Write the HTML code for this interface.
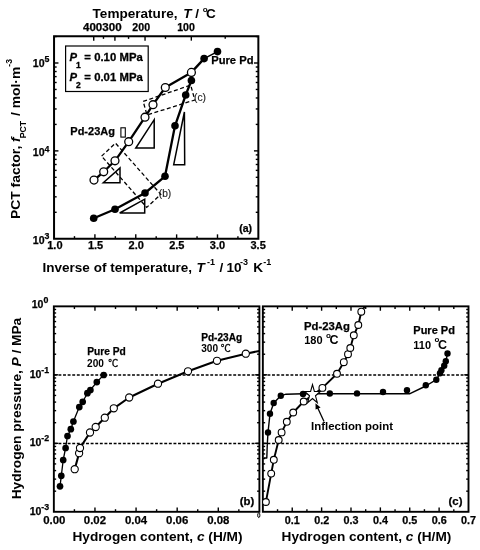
<!DOCTYPE html>
<html><head><meta charset="utf-8"><title>PCT factor figure</title>
<style>html,body{margin:0;padding:0;background:#fff}svg{display:block}</style></head>
<body>
<svg width="480" height="550" viewBox="0 0 480 550" font-family="'Liberation Sans', sans-serif" font-weight="bold" stroke="none">
<rect width="480" height="550" fill="#fff"/>
<line x1="54.05" y1="212.30" x2="56.65" y2="212.30" stroke="#000" stroke-width="1.4" />
<line x1="258.35" y1="212.30" x2="255.75" y2="212.30" stroke="#000" stroke-width="1.4" />
<line x1="54.05" y1="196.82" x2="56.65" y2="196.82" stroke="#000" stroke-width="1.4" />
<line x1="258.35" y1="196.82" x2="255.75" y2="196.82" stroke="#000" stroke-width="1.4" />
<line x1="54.05" y1="185.84" x2="56.65" y2="185.84" stroke="#000" stroke-width="1.4" />
<line x1="258.35" y1="185.84" x2="255.75" y2="185.84" stroke="#000" stroke-width="1.4" />
<line x1="54.05" y1="177.33" x2="56.65" y2="177.33" stroke="#000" stroke-width="1.4" />
<line x1="258.35" y1="177.33" x2="255.75" y2="177.33" stroke="#000" stroke-width="1.4" />
<line x1="54.05" y1="170.37" x2="56.65" y2="170.37" stroke="#000" stroke-width="1.4" />
<line x1="258.35" y1="170.37" x2="255.75" y2="170.37" stroke="#000" stroke-width="1.4" />
<line x1="54.05" y1="164.49" x2="56.65" y2="164.49" stroke="#000" stroke-width="1.4" />
<line x1="258.35" y1="164.49" x2="255.75" y2="164.49" stroke="#000" stroke-width="1.4" />
<line x1="54.05" y1="159.39" x2="56.65" y2="159.39" stroke="#000" stroke-width="1.4" />
<line x1="258.35" y1="159.39" x2="255.75" y2="159.39" stroke="#000" stroke-width="1.4" />
<line x1="54.05" y1="154.90" x2="56.65" y2="154.90" stroke="#000" stroke-width="1.4" />
<line x1="258.35" y1="154.90" x2="255.75" y2="154.90" stroke="#000" stroke-width="1.4" />
<line x1="54.05" y1="150.88" x2="58.45" y2="150.88" stroke="#000" stroke-width="1.4" />
<line x1="258.35" y1="150.88" x2="253.95" y2="150.88" stroke="#000" stroke-width="1.4" />
<line x1="54.05" y1="124.42" x2="56.65" y2="124.42" stroke="#000" stroke-width="1.4" />
<line x1="258.35" y1="124.42" x2="255.75" y2="124.42" stroke="#000" stroke-width="1.4" />
<line x1="54.05" y1="108.95" x2="56.65" y2="108.95" stroke="#000" stroke-width="1.4" />
<line x1="258.35" y1="108.95" x2="255.75" y2="108.95" stroke="#000" stroke-width="1.4" />
<line x1="54.05" y1="97.97" x2="56.65" y2="97.97" stroke="#000" stroke-width="1.4" />
<line x1="258.35" y1="97.97" x2="255.75" y2="97.97" stroke="#000" stroke-width="1.4" />
<line x1="54.05" y1="89.45" x2="56.65" y2="89.45" stroke="#000" stroke-width="1.4" />
<line x1="258.35" y1="89.45" x2="255.75" y2="89.45" stroke="#000" stroke-width="1.4" />
<line x1="54.05" y1="82.49" x2="56.65" y2="82.49" stroke="#000" stroke-width="1.4" />
<line x1="258.35" y1="82.49" x2="255.75" y2="82.49" stroke="#000" stroke-width="1.4" />
<line x1="54.05" y1="76.61" x2="56.65" y2="76.61" stroke="#000" stroke-width="1.4" />
<line x1="258.35" y1="76.61" x2="255.75" y2="76.61" stroke="#000" stroke-width="1.4" />
<line x1="54.05" y1="71.52" x2="56.65" y2="71.52" stroke="#000" stroke-width="1.4" />
<line x1="258.35" y1="71.52" x2="255.75" y2="71.52" stroke="#000" stroke-width="1.4" />
<line x1="54.05" y1="67.02" x2="56.65" y2="67.02" stroke="#000" stroke-width="1.4" />
<line x1="258.35" y1="67.02" x2="255.75" y2="67.02" stroke="#000" stroke-width="1.4" />
<line x1="54.05" y1="63.00" x2="58.45" y2="63.00" stroke="#000" stroke-width="1.4" />
<line x1="258.35" y1="63.00" x2="253.95" y2="63.00" stroke="#000" stroke-width="1.4" />
<line x1="54.05" y1="36.55" x2="56.65" y2="36.55" stroke="#000" stroke-width="1.4" />
<line x1="258.35" y1="36.55" x2="255.75" y2="36.55" stroke="#000" stroke-width="1.4" />
<text x="54.90" y="249.35" font-size="11" font-weight="bold" text-anchor="middle" fill="#000" stroke="#000" stroke-width="0.25" >1.0</text>
<line x1="74.48" y1="238.75" x2="74.48" y2="236.15" stroke="#000" stroke-width="1.4" />
<line x1="94.91" y1="238.75" x2="94.91" y2="234.35" stroke="#000" stroke-width="1.4" />
<text x="95.55" y="249.35" font-size="11" font-weight="bold" text-anchor="middle" fill="#000" stroke="#000" stroke-width="0.25" >1.5</text>
<line x1="115.34" y1="238.75" x2="115.34" y2="236.15" stroke="#000" stroke-width="1.4" />
<line x1="135.77" y1="238.75" x2="135.77" y2="234.35" stroke="#000" stroke-width="1.4" />
<text x="136.20" y="249.35" font-size="11" font-weight="bold" text-anchor="middle" fill="#000" stroke="#000" stroke-width="0.25" >2.0</text>
<line x1="156.20" y1="238.75" x2="156.20" y2="236.15" stroke="#000" stroke-width="1.4" />
<line x1="176.63" y1="238.75" x2="176.63" y2="234.35" stroke="#000" stroke-width="1.4" />
<text x="176.85" y="249.35" font-size="11" font-weight="bold" text-anchor="middle" fill="#000" stroke="#000" stroke-width="0.25" >2.5</text>
<line x1="197.06" y1="238.75" x2="197.06" y2="236.15" stroke="#000" stroke-width="1.4" />
<line x1="217.49" y1="238.75" x2="217.49" y2="234.35" stroke="#000" stroke-width="1.4" />
<text x="217.50" y="249.35" font-size="11" font-weight="bold" text-anchor="middle" fill="#000" stroke="#000" stroke-width="0.25" >3.0</text>
<line x1="237.92" y1="238.75" x2="237.92" y2="236.15" stroke="#000" stroke-width="1.4" />
<text x="258.15" y="249.35" font-size="11" font-weight="bold" text-anchor="middle" fill="#000" stroke="#000" stroke-width="0.25" >3.5</text>
<line x1="93.73" y1="36.25" x2="93.73" y2="40.65" stroke="#000" stroke-width="1.4" />
<line x1="103.47" y1="36.25" x2="103.47" y2="38.85" stroke="#000" stroke-width="1.4" />
<line x1="114.91" y1="36.25" x2="114.91" y2="40.65" stroke="#000" stroke-width="1.4" />
<line x1="128.54" y1="36.25" x2="128.54" y2="38.85" stroke="#000" stroke-width="1.4" />
<line x1="145.04" y1="36.25" x2="145.04" y2="40.65" stroke="#000" stroke-width="1.4" />
<line x1="165.45" y1="36.25" x2="165.45" y2="38.85" stroke="#000" stroke-width="1.4" />
<line x1="191.33" y1="36.25" x2="191.33" y2="40.65" stroke="#000" stroke-width="1.4" />
<line x1="225.22" y1="36.25" x2="225.22" y2="38.85" stroke="#000" stroke-width="1.4" />
<text x="83.00" y="31.40" font-size="10.6" font-weight="bold" text-anchor="start" fill="#000" stroke="#000" stroke-width="0.25" textLength="38.6" lengthAdjust="spacingAndGlyphs">400300</text>
<text x="141.20" y="31.40" font-size="10.6" font-weight="bold" text-anchor="middle" fill="#000" stroke="#000" stroke-width="0.25" >200</text>
<text x="186.00" y="31.40" font-size="10.6" font-weight="bold" text-anchor="middle" fill="#000" stroke="#000" stroke-width="0.25" >100</text>
<rect x="54.05" y="36.25" width="204.30" height="202.50" fill="none" stroke="#000" stroke-width="2.0"/>
<text x="44.50" y="67.20" font-size="10.5" font-weight="bold" text-anchor="end" fill="#000" stroke="#000" stroke-width="0.25" >10</text>
<text x="44.50" y="61.80" font-size="8.8" font-weight="bold" text-anchor="start" fill="#000" stroke="#000" stroke-width="0.25" >5</text>
<text x="44.50" y="156.18" font-size="10.5" font-weight="bold" text-anchor="end" fill="#000" stroke="#000" stroke-width="0.25" >10</text>
<text x="44.50" y="151.58" font-size="8.8" font-weight="bold" text-anchor="start" fill="#000" stroke="#000" stroke-width="0.25" >4</text>
<text x="44.50" y="243.85" font-size="10.5" font-weight="bold" text-anchor="end" fill="#000" stroke="#000" stroke-width="0.25" >10</text>
<text x="44.50" y="239.25" font-size="8.8" font-weight="bold" text-anchor="start" fill="#000" stroke="#000" stroke-width="0.25" >3</text>
<text x="92.6" y="17.9" font-size="13.6" textLength="84.9" lengthAdjust="spacingAndGlyphs">Temperature,</text>
<text y="17.9" font-size="13.6"><tspan x="183.2" font-style="italic">T</tspan><tspan x="195.3">/</tspan><tspan x="202.8" dy="-6.3" font-size="8">o</tspan><tspan x="206.0" dy="6.3">C</tspan></text>
<text x="42.5" y="272" font-size="13.6" textLength="149.6" lengthAdjust="spacingAndGlyphs">Inverse of temperature,</text>
<text y="272" font-size="13.6"><tspan x="196.4" font-style="italic">T</tspan><tspan x="207.0" dy="-6.6" font-size="9">-1</tspan><tspan x="219.6" dy="6.6">/</tspan><tspan x="226.5">10</tspan><tspan x="239.9" dy="-6.6" font-size="9">-3</tspan><tspan x="253.2" dy="6.6">K</tspan><tspan x="263.3" dy="-6.6" font-size="9">-1</tspan></text>
<text transform="translate(19.9,219) rotate(-90)" font-size="13.6" textLength="160" lengthAdjust="spacingAndGlyphs">PCT factor, <tspan font-style="italic">f</tspan><tspan font-size="8.5" dy="5.8" dx="-1">PCT</tspan><tspan dy="-5.8" dx="1"> / mol·m</tspan><tspan font-size="8.5" dy="-8.2">-3</tspan></text>
<rect x="65.6" y="46" width="82.6" height="45.5" fill="#fff" stroke="#000" stroke-width="1.2"/>
<text x="69.4" y="61.3" font-size="11.3" stroke="#000" stroke-width="0.3"><tspan font-style="italic">P</tspan><tspan font-size="8.5" dy="6.6" dx="-1.0">1</tspan><tspan dy="-6.6" x="84.2">=</tspan><tspan x="94.2">0.10</tspan><tspan x="119.5">MPa</tspan></text>
<text x="69.4" y="81.0" font-size="11.3" stroke="#000" stroke-width="0.3"><tspan font-style="italic">P</tspan><tspan font-size="8.5" dy="6.6" dx="-1.0">2</tspan><tspan dy="-6.6" x="84.2">=</tspan><tspan x="94.2">0.01</tspan><tspan x="119.5">MPa</tspan></text>
<polygon points="101.6,156.1 115.5,143.1 160.8,194.4 146.7,207.4" fill="none" stroke="#000" stroke-width="1.3" stroke-dasharray="4 2.5"/>
<polygon points="143.2,101.4 190.7,85.1 194.8,100 147,115" fill="none" stroke="#000" stroke-width="1.3" stroke-dasharray="4 2.5"/>
<polygon points="135.8,148 154.2,148 154.2,119.7" fill="none" stroke="#000" stroke-width="1.5" stroke-linejoin="miter"/>
<polygon points="103.3,182.8 120,182.8 120,168" fill="none" stroke="#000" stroke-width="1.5" stroke-linejoin="miter"/>
<polygon points="119.7,213 144.7,213 144.7,199.2" fill="none" stroke="#000" stroke-width="1.5" stroke-linejoin="miter"/>
<polygon points="173.7,164.7 184.7,164.7 184.4,112" fill="none" stroke="#000" stroke-width="1.5" stroke-linejoin="miter"/>
<polyline points="94.0,180.1 103.7,171.8 115.0,160.8 128.7,141.7 145.0,117.2 153.0,104.7 165.3,87.5 191.4,72.4" fill="none" stroke="#000" stroke-width="2.3" stroke-linejoin="round" />
<polyline points="93.7,218.3 115.0,209.2 145.0,193.0 165.0,176.3 175.0,125.8 185.7,95.0 191.4,80.5 191.4,72.4 204.1,58.6" fill="none" stroke="#000" stroke-width="2.3" stroke-linejoin="round" />
<polyline points="204.1,58.6 217.5,51.6" fill="none" stroke="#000" stroke-width="1.6" stroke-linejoin="round" />
<circle cx="94.0" cy="180.1" r="3.95" fill="#fff" stroke="#000" stroke-width="1.3"/>
<circle cx="103.7" cy="171.8" r="3.95" fill="#fff" stroke="#000" stroke-width="1.3"/>
<circle cx="115.0" cy="160.8" r="3.95" fill="#fff" stroke="#000" stroke-width="1.3"/>
<circle cx="128.7" cy="141.7" r="3.95" fill="#fff" stroke="#000" stroke-width="1.3"/>
<circle cx="145.0" cy="117.2" r="3.95" fill="#fff" stroke="#000" stroke-width="1.3"/>
<circle cx="153.0" cy="104.7" r="3.95" fill="#fff" stroke="#000" stroke-width="1.3"/>
<circle cx="165.3" cy="87.5" r="3.95" fill="#fff" stroke="#000" stroke-width="1.3"/>
<circle cx="191.4" cy="72.4" r="3.95" fill="#fff" stroke="#000" stroke-width="1.3"/>
<circle cx="93.7" cy="218.3" r="3.8" fill="#000"/>
<circle cx="115.0" cy="209.2" r="3.8" fill="#000"/>
<circle cx="145.0" cy="193.0" r="3.8" fill="#000"/>
<circle cx="165.0" cy="176.3" r="3.8" fill="#000"/>
<circle cx="175.0" cy="125.8" r="3.8" fill="#000"/>
<circle cx="185.7" cy="95.0" r="3.8" fill="#000"/>
<circle cx="191.4" cy="80.5" r="3.8" fill="#000"/>
<circle cx="204.1" cy="58.6" r="3.8" fill="#000"/>
<circle cx="217.5" cy="51.6" r="3.8" fill="#000"/>
<text x="211.20" y="64.40" font-size="11.2" font-weight="bold" text-anchor="start" fill="#000" stroke="#000" stroke-width="0.25" >Pure Pd</text>
<text x="70.30" y="135.40" font-size="11" font-weight="bold" text-anchor="start" fill="#000" stroke="#000" stroke-width="0.25" >Pd-23Ag</text>
<rect x="120.9" y="127.8" width="4.4" height="9.3" fill="none" stroke="#000" stroke-width="1.1"/>
<text x="158.80" y="196.70" font-size="10.2" font-weight="normal" text-anchor="start" fill="#222" stroke="#222" stroke-width="0.15" >(b)</text>
<text x="194.00" y="100.90" font-size="10.3" font-weight="normal" text-anchor="start" fill="#222" stroke="#222" stroke-width="0.15" >(c)</text>
<text x="239.20" y="232.00" font-size="10.5" font-weight="bold" text-anchor="start" fill="#000" stroke="#000" stroke-width="0.25" >(a)</text>
<line x1="53.85" y1="491.18" x2="56.15" y2="491.18" stroke="#000" stroke-width="1.4" />
<line x1="259.40" y1="491.18" x2="257.10" y2="491.18" stroke="#000" stroke-width="1.4" />
<line x1="53.85" y1="479.13" x2="56.15" y2="479.13" stroke="#000" stroke-width="1.4" />
<line x1="259.40" y1="479.13" x2="257.10" y2="479.13" stroke="#000" stroke-width="1.4" />
<line x1="53.85" y1="470.57" x2="56.15" y2="470.57" stroke="#000" stroke-width="1.4" />
<line x1="259.40" y1="470.57" x2="257.10" y2="470.57" stroke="#000" stroke-width="1.4" />
<line x1="53.85" y1="463.93" x2="56.15" y2="463.93" stroke="#000" stroke-width="1.4" />
<line x1="259.40" y1="463.93" x2="257.10" y2="463.93" stroke="#000" stroke-width="1.4" />
<line x1="53.85" y1="458.51" x2="56.15" y2="458.51" stroke="#000" stroke-width="1.4" />
<line x1="259.40" y1="458.51" x2="257.10" y2="458.51" stroke="#000" stroke-width="1.4" />
<line x1="53.85" y1="453.92" x2="56.15" y2="453.92" stroke="#000" stroke-width="1.4" />
<line x1="259.40" y1="453.92" x2="257.10" y2="453.92" stroke="#000" stroke-width="1.4" />
<line x1="53.85" y1="449.95" x2="56.15" y2="449.95" stroke="#000" stroke-width="1.4" />
<line x1="259.40" y1="449.95" x2="257.10" y2="449.95" stroke="#000" stroke-width="1.4" />
<line x1="53.85" y1="446.45" x2="56.15" y2="446.45" stroke="#000" stroke-width="1.4" />
<line x1="259.40" y1="446.45" x2="257.10" y2="446.45" stroke="#000" stroke-width="1.4" />
<line x1="53.85" y1="443.32" x2="58.15" y2="443.32" stroke="#000" stroke-width="1.4" />
<line x1="259.40" y1="443.32" x2="255.10" y2="443.32" stroke="#000" stroke-width="1.4" />
<line x1="53.85" y1="422.70" x2="56.15" y2="422.70" stroke="#000" stroke-width="1.4" />
<line x1="259.40" y1="422.70" x2="257.10" y2="422.70" stroke="#000" stroke-width="1.4" />
<line x1="53.85" y1="410.64" x2="56.15" y2="410.64" stroke="#000" stroke-width="1.4" />
<line x1="259.40" y1="410.64" x2="257.10" y2="410.64" stroke="#000" stroke-width="1.4" />
<line x1="53.85" y1="402.09" x2="56.15" y2="402.09" stroke="#000" stroke-width="1.4" />
<line x1="259.40" y1="402.09" x2="257.10" y2="402.09" stroke="#000" stroke-width="1.4" />
<line x1="53.85" y1="395.45" x2="56.15" y2="395.45" stroke="#000" stroke-width="1.4" />
<line x1="259.40" y1="395.45" x2="257.10" y2="395.45" stroke="#000" stroke-width="1.4" />
<line x1="53.85" y1="390.03" x2="56.15" y2="390.03" stroke="#000" stroke-width="1.4" />
<line x1="259.40" y1="390.03" x2="257.10" y2="390.03" stroke="#000" stroke-width="1.4" />
<line x1="53.85" y1="385.44" x2="56.15" y2="385.44" stroke="#000" stroke-width="1.4" />
<line x1="259.40" y1="385.44" x2="257.10" y2="385.44" stroke="#000" stroke-width="1.4" />
<line x1="53.85" y1="381.47" x2="56.15" y2="381.47" stroke="#000" stroke-width="1.4" />
<line x1="259.40" y1="381.47" x2="257.10" y2="381.47" stroke="#000" stroke-width="1.4" />
<line x1="53.85" y1="377.97" x2="56.15" y2="377.97" stroke="#000" stroke-width="1.4" />
<line x1="259.40" y1="377.97" x2="257.10" y2="377.97" stroke="#000" stroke-width="1.4" />
<line x1="53.85" y1="374.83" x2="58.15" y2="374.83" stroke="#000" stroke-width="1.4" />
<line x1="259.40" y1="374.83" x2="255.10" y2="374.83" stroke="#000" stroke-width="1.4" />
<line x1="53.85" y1="354.22" x2="56.15" y2="354.22" stroke="#000" stroke-width="1.4" />
<line x1="259.40" y1="354.22" x2="257.10" y2="354.22" stroke="#000" stroke-width="1.4" />
<line x1="53.85" y1="342.16" x2="56.15" y2="342.16" stroke="#000" stroke-width="1.4" />
<line x1="259.40" y1="342.16" x2="257.10" y2="342.16" stroke="#000" stroke-width="1.4" />
<line x1="53.85" y1="333.60" x2="56.15" y2="333.60" stroke="#000" stroke-width="1.4" />
<line x1="259.40" y1="333.60" x2="257.10" y2="333.60" stroke="#000" stroke-width="1.4" />
<line x1="53.85" y1="326.97" x2="56.15" y2="326.97" stroke="#000" stroke-width="1.4" />
<line x1="259.40" y1="326.97" x2="257.10" y2="326.97" stroke="#000" stroke-width="1.4" />
<line x1="53.85" y1="321.54" x2="56.15" y2="321.54" stroke="#000" stroke-width="1.4" />
<line x1="259.40" y1="321.54" x2="257.10" y2="321.54" stroke="#000" stroke-width="1.4" />
<line x1="53.85" y1="316.96" x2="56.15" y2="316.96" stroke="#000" stroke-width="1.4" />
<line x1="259.40" y1="316.96" x2="257.10" y2="316.96" stroke="#000" stroke-width="1.4" />
<line x1="53.85" y1="312.99" x2="56.15" y2="312.99" stroke="#000" stroke-width="1.4" />
<line x1="259.40" y1="312.99" x2="257.10" y2="312.99" stroke="#000" stroke-width="1.4" />
<line x1="53.85" y1="309.48" x2="56.15" y2="309.48" stroke="#000" stroke-width="1.4" />
<line x1="259.40" y1="309.48" x2="257.10" y2="309.48" stroke="#000" stroke-width="1.4" />
<line x1="262.85" y1="491.18" x2="265.15" y2="491.18" stroke="#000" stroke-width="1.4" />
<line x1="468.50" y1="491.18" x2="466.20" y2="491.18" stroke="#000" stroke-width="1.4" />
<line x1="262.85" y1="479.13" x2="265.15" y2="479.13" stroke="#000" stroke-width="1.4" />
<line x1="468.50" y1="479.13" x2="466.20" y2="479.13" stroke="#000" stroke-width="1.4" />
<line x1="262.85" y1="470.57" x2="265.15" y2="470.57" stroke="#000" stroke-width="1.4" />
<line x1="468.50" y1="470.57" x2="466.20" y2="470.57" stroke="#000" stroke-width="1.4" />
<line x1="262.85" y1="463.93" x2="265.15" y2="463.93" stroke="#000" stroke-width="1.4" />
<line x1="468.50" y1="463.93" x2="466.20" y2="463.93" stroke="#000" stroke-width="1.4" />
<line x1="262.85" y1="458.51" x2="265.15" y2="458.51" stroke="#000" stroke-width="1.4" />
<line x1="468.50" y1="458.51" x2="466.20" y2="458.51" stroke="#000" stroke-width="1.4" />
<line x1="262.85" y1="453.92" x2="265.15" y2="453.92" stroke="#000" stroke-width="1.4" />
<line x1="468.50" y1="453.92" x2="466.20" y2="453.92" stroke="#000" stroke-width="1.4" />
<line x1="262.85" y1="449.95" x2="265.15" y2="449.95" stroke="#000" stroke-width="1.4" />
<line x1="468.50" y1="449.95" x2="466.20" y2="449.95" stroke="#000" stroke-width="1.4" />
<line x1="262.85" y1="446.45" x2="265.15" y2="446.45" stroke="#000" stroke-width="1.4" />
<line x1="468.50" y1="446.45" x2="466.20" y2="446.45" stroke="#000" stroke-width="1.4" />
<line x1="262.85" y1="443.32" x2="267.15" y2="443.32" stroke="#000" stroke-width="1.4" />
<line x1="468.50" y1="443.32" x2="464.20" y2="443.32" stroke="#000" stroke-width="1.4" />
<line x1="262.85" y1="422.70" x2="265.15" y2="422.70" stroke="#000" stroke-width="1.4" />
<line x1="468.50" y1="422.70" x2="466.20" y2="422.70" stroke="#000" stroke-width="1.4" />
<line x1="262.85" y1="410.64" x2="265.15" y2="410.64" stroke="#000" stroke-width="1.4" />
<line x1="468.50" y1="410.64" x2="466.20" y2="410.64" stroke="#000" stroke-width="1.4" />
<line x1="262.85" y1="402.09" x2="265.15" y2="402.09" stroke="#000" stroke-width="1.4" />
<line x1="468.50" y1="402.09" x2="466.20" y2="402.09" stroke="#000" stroke-width="1.4" />
<line x1="262.85" y1="395.45" x2="265.15" y2="395.45" stroke="#000" stroke-width="1.4" />
<line x1="468.50" y1="395.45" x2="466.20" y2="395.45" stroke="#000" stroke-width="1.4" />
<line x1="262.85" y1="390.03" x2="265.15" y2="390.03" stroke="#000" stroke-width="1.4" />
<line x1="468.50" y1="390.03" x2="466.20" y2="390.03" stroke="#000" stroke-width="1.4" />
<line x1="262.85" y1="385.44" x2="265.15" y2="385.44" stroke="#000" stroke-width="1.4" />
<line x1="468.50" y1="385.44" x2="466.20" y2="385.44" stroke="#000" stroke-width="1.4" />
<line x1="262.85" y1="381.47" x2="265.15" y2="381.47" stroke="#000" stroke-width="1.4" />
<line x1="468.50" y1="381.47" x2="466.20" y2="381.47" stroke="#000" stroke-width="1.4" />
<line x1="262.85" y1="377.97" x2="265.15" y2="377.97" stroke="#000" stroke-width="1.4" />
<line x1="468.50" y1="377.97" x2="466.20" y2="377.97" stroke="#000" stroke-width="1.4" />
<line x1="262.85" y1="374.83" x2="267.15" y2="374.83" stroke="#000" stroke-width="1.4" />
<line x1="468.50" y1="374.83" x2="464.20" y2="374.83" stroke="#000" stroke-width="1.4" />
<line x1="262.85" y1="354.22" x2="265.15" y2="354.22" stroke="#000" stroke-width="1.4" />
<line x1="468.50" y1="354.22" x2="466.20" y2="354.22" stroke="#000" stroke-width="1.4" />
<line x1="262.85" y1="342.16" x2="265.15" y2="342.16" stroke="#000" stroke-width="1.4" />
<line x1="468.50" y1="342.16" x2="466.20" y2="342.16" stroke="#000" stroke-width="1.4" />
<line x1="262.85" y1="333.60" x2="265.15" y2="333.60" stroke="#000" stroke-width="1.4" />
<line x1="468.50" y1="333.60" x2="466.20" y2="333.60" stroke="#000" stroke-width="1.4" />
<line x1="262.85" y1="326.97" x2="265.15" y2="326.97" stroke="#000" stroke-width="1.4" />
<line x1="468.50" y1="326.97" x2="466.20" y2="326.97" stroke="#000" stroke-width="1.4" />
<line x1="262.85" y1="321.54" x2="265.15" y2="321.54" stroke="#000" stroke-width="1.4" />
<line x1="468.50" y1="321.54" x2="466.20" y2="321.54" stroke="#000" stroke-width="1.4" />
<line x1="262.85" y1="316.96" x2="265.15" y2="316.96" stroke="#000" stroke-width="1.4" />
<line x1="468.50" y1="316.96" x2="466.20" y2="316.96" stroke="#000" stroke-width="1.4" />
<line x1="262.85" y1="312.99" x2="265.15" y2="312.99" stroke="#000" stroke-width="1.4" />
<line x1="468.50" y1="312.99" x2="466.20" y2="312.99" stroke="#000" stroke-width="1.4" />
<line x1="262.85" y1="309.48" x2="265.15" y2="309.48" stroke="#000" stroke-width="1.4" />
<line x1="468.50" y1="309.48" x2="466.20" y2="309.48" stroke="#000" stroke-width="1.4" />
<line x1="74.41" y1="511.80" x2="74.41" y2="509.20" stroke="#000" stroke-width="1.4" />
<line x1="74.41" y1="306.35" x2="74.41" y2="308.95" stroke="#000" stroke-width="1.4" />
<line x1="94.96" y1="511.80" x2="94.96" y2="507.40" stroke="#000" stroke-width="1.4" />
<line x1="94.96" y1="306.35" x2="94.96" y2="310.75" stroke="#000" stroke-width="1.4" />
<line x1="115.51" y1="511.80" x2="115.51" y2="509.20" stroke="#000" stroke-width="1.4" />
<line x1="115.51" y1="306.35" x2="115.51" y2="308.95" stroke="#000" stroke-width="1.4" />
<line x1="136.07" y1="511.80" x2="136.07" y2="507.40" stroke="#000" stroke-width="1.4" />
<line x1="136.07" y1="306.35" x2="136.07" y2="310.75" stroke="#000" stroke-width="1.4" />
<line x1="156.62" y1="511.80" x2="156.62" y2="509.20" stroke="#000" stroke-width="1.4" />
<line x1="156.62" y1="306.35" x2="156.62" y2="308.95" stroke="#000" stroke-width="1.4" />
<line x1="177.18" y1="511.80" x2="177.18" y2="507.40" stroke="#000" stroke-width="1.4" />
<line x1="177.18" y1="306.35" x2="177.18" y2="310.75" stroke="#000" stroke-width="1.4" />
<line x1="197.73" y1="511.80" x2="197.73" y2="509.20" stroke="#000" stroke-width="1.4" />
<line x1="197.73" y1="306.35" x2="197.73" y2="308.95" stroke="#000" stroke-width="1.4" />
<line x1="218.29" y1="511.80" x2="218.29" y2="507.40" stroke="#000" stroke-width="1.4" />
<line x1="218.29" y1="306.35" x2="218.29" y2="310.75" stroke="#000" stroke-width="1.4" />
<line x1="238.84" y1="511.80" x2="238.84" y2="509.20" stroke="#000" stroke-width="1.4" />
<line x1="238.84" y1="306.35" x2="238.84" y2="308.95" stroke="#000" stroke-width="1.4" />
<text x="54.25" y="523.90" font-size="11.4" font-weight="bold" text-anchor="middle" fill="#000" stroke="#000" stroke-width="0.25" >0.00</text>
<text x="94.96" y="523.90" font-size="11.4" font-weight="bold" text-anchor="middle" fill="#000" stroke="#000" stroke-width="0.25" >0.02</text>
<text x="136.07" y="523.90" font-size="11.4" font-weight="bold" text-anchor="middle" fill="#000" stroke="#000" stroke-width="0.25" >0.04</text>
<text x="177.18" y="523.90" font-size="11.4" font-weight="bold" text-anchor="middle" fill="#000" stroke="#000" stroke-width="0.25" >0.06</text>
<text x="218.29" y="523.90" font-size="11.4" font-weight="bold" text-anchor="middle" fill="#000" stroke="#000" stroke-width="0.25" >0.08</text>
<line x1="277.54" y1="511.80" x2="277.54" y2="509.20" stroke="#000" stroke-width="1.4" />
<line x1="277.54" y1="306.35" x2="277.54" y2="308.95" stroke="#000" stroke-width="1.4" />
<line x1="292.23" y1="511.80" x2="292.23" y2="507.40" stroke="#000" stroke-width="1.4" />
<line x1="292.23" y1="306.35" x2="292.23" y2="310.75" stroke="#000" stroke-width="1.4" />
<line x1="306.92" y1="511.80" x2="306.92" y2="509.20" stroke="#000" stroke-width="1.4" />
<line x1="306.92" y1="306.35" x2="306.92" y2="308.95" stroke="#000" stroke-width="1.4" />
<line x1="321.61" y1="511.80" x2="321.61" y2="507.40" stroke="#000" stroke-width="1.4" />
<line x1="321.61" y1="306.35" x2="321.61" y2="310.75" stroke="#000" stroke-width="1.4" />
<line x1="336.30" y1="511.80" x2="336.30" y2="509.20" stroke="#000" stroke-width="1.4" />
<line x1="336.30" y1="306.35" x2="336.30" y2="308.95" stroke="#000" stroke-width="1.4" />
<line x1="350.99" y1="511.80" x2="350.99" y2="507.40" stroke="#000" stroke-width="1.4" />
<line x1="350.99" y1="306.35" x2="350.99" y2="310.75" stroke="#000" stroke-width="1.4" />
<line x1="365.68" y1="511.80" x2="365.68" y2="509.20" stroke="#000" stroke-width="1.4" />
<line x1="365.68" y1="306.35" x2="365.68" y2="308.95" stroke="#000" stroke-width="1.4" />
<line x1="380.36" y1="511.80" x2="380.36" y2="507.40" stroke="#000" stroke-width="1.4" />
<line x1="380.36" y1="306.35" x2="380.36" y2="310.75" stroke="#000" stroke-width="1.4" />
<line x1="395.05" y1="511.80" x2="395.05" y2="509.20" stroke="#000" stroke-width="1.4" />
<line x1="395.05" y1="306.35" x2="395.05" y2="308.95" stroke="#000" stroke-width="1.4" />
<line x1="409.74" y1="511.80" x2="409.74" y2="507.40" stroke="#000" stroke-width="1.4" />
<line x1="409.74" y1="306.35" x2="409.74" y2="310.75" stroke="#000" stroke-width="1.4" />
<line x1="424.43" y1="511.80" x2="424.43" y2="509.20" stroke="#000" stroke-width="1.4" />
<line x1="424.43" y1="306.35" x2="424.43" y2="308.95" stroke="#000" stroke-width="1.4" />
<line x1="439.12" y1="511.80" x2="439.12" y2="507.40" stroke="#000" stroke-width="1.4" />
<line x1="439.12" y1="306.35" x2="439.12" y2="310.75" stroke="#000" stroke-width="1.4" />
<line x1="453.81" y1="511.80" x2="453.81" y2="509.20" stroke="#000" stroke-width="1.4" />
<line x1="453.81" y1="306.35" x2="453.81" y2="308.95" stroke="#000" stroke-width="1.4" />
<text x="292.33" y="523.80" font-size="10.8" font-weight="bold" text-anchor="middle" fill="#000" stroke="#000" stroke-width="0.25" >0.1</text>
<text x="321.71" y="523.80" font-size="10.8" font-weight="bold" text-anchor="middle" fill="#000" stroke="#000" stroke-width="0.25" >0.2</text>
<text x="351.09" y="523.80" font-size="10.8" font-weight="bold" text-anchor="middle" fill="#000" stroke="#000" stroke-width="0.25" >0.3</text>
<text x="380.46" y="523.80" font-size="10.8" font-weight="bold" text-anchor="middle" fill="#000" stroke="#000" stroke-width="0.25" >0.4</text>
<text x="409.84" y="523.80" font-size="10.8" font-weight="bold" text-anchor="middle" fill="#000" stroke="#000" stroke-width="0.25" >0.5</text>
<text x="439.22" y="523.80" font-size="10.8" font-weight="bold" text-anchor="middle" fill="#000" stroke="#000" stroke-width="0.25" >0.6</text>
<text x="468.60" y="523.80" font-size="10.8" font-weight="bold" text-anchor="middle" fill="#000" stroke="#000" stroke-width="0.25" >0.7</text>
<line x1="53.85" y1="375.03" x2="259.40" y2="375.03" stroke="#000" stroke-width="1.5" stroke-dasharray="2.9 1.7"/>
<line x1="262.85" y1="375.03" x2="468.50" y2="375.03" stroke="#000" stroke-width="1.5" stroke-dasharray="2.9 1.7"/>
<line x1="53.85" y1="443.52" x2="259.40" y2="443.52" stroke="#000" stroke-width="1.5" stroke-dasharray="2.9 1.7"/>
<line x1="262.85" y1="443.52" x2="468.50" y2="443.52" stroke="#000" stroke-width="1.5" stroke-dasharray="2.9 1.7"/>
<rect x="53.85" y="306.35" width="205.55" height="205.45" fill="none" stroke="#000" stroke-width="1.9"/>
<rect x="262.85" y="306.35" width="205.65" height="205.45" fill="none" stroke="#000" stroke-width="1.9"/>
<text x="43.40" y="308.35" font-size="10.5" font-weight="bold" text-anchor="end" fill="#000" stroke="#000" stroke-width="0.25" >10</text>
<text x="43.60" y="303.15" font-size="8.8" font-weight="bold" text-anchor="start" fill="#000" stroke="#000" stroke-width="0.25" >0</text>
<text x="41.40" y="377.73" font-size="10.5" font-weight="bold" text-anchor="end" fill="#000" stroke="#000" stroke-width="0.25" >10</text>
<text x="41.30" y="373.33" font-size="8.8" font-weight="bold" text-anchor="start" fill="#000" stroke="#000" stroke-width="0.25" >-1</text>
<text x="41.40" y="445.72" font-size="10.5" font-weight="bold" text-anchor="end" fill="#000" stroke="#000" stroke-width="0.25" >10</text>
<text x="41.30" y="440.72" font-size="8.8" font-weight="bold" text-anchor="start" fill="#000" stroke="#000" stroke-width="0.25" >-2</text>
<text x="41.40" y="514.80" font-size="10.5" font-weight="bold" text-anchor="end" fill="#000" stroke="#000" stroke-width="0.25" >10</text>
<text x="41.30" y="509.80" font-size="8.8" font-weight="bold" text-anchor="start" fill="#000" stroke="#000" stroke-width="0.25" >-3</text>
<ellipse cx="258.8" cy="515.2" rx="1.1" ry="2.4" fill="none" stroke="#000" stroke-width="1.0"/>
<text transform="translate(20.6,499.3) rotate(-90)" font-size="13.6" textLength="181.5" lengthAdjust="spacingAndGlyphs">Hydrogen pressure, <tspan font-style="italic">P</tspan> / MPa</text>
<text x="72.5" y="541" font-size="13.6" textLength="170" lengthAdjust="spacingAndGlyphs">Hydrogen content, <tspan font-style="italic">c</tspan> (H/M)</text>
<text x="281.6" y="541" font-size="13.6" textLength="169.7" lengthAdjust="spacingAndGlyphs">Hydrogen content, <tspan font-style="italic">c</tspan> (H/M)</text>
<polyline points="60.0,486.3 61.3,475.8 63.2,460.0 65.6,448.0 67.5,436.0 70.8,429.2 73.4,421.5 79.3,407.1 82.7,401.8 87.4,393.2 90.4,390.0 96.8,382.1 103.7,375.0" fill="none" stroke="#000" stroke-width="1.3" stroke-linejoin="round" />
<polyline points="74.7,469.2 79.1,453.2 80.0,448.0 90.0,432.5 95.7,427.0 104.8,417.7 113.8,408.3 129.2,397.5 158.0,383.7 188.0,371.3 217.0,360.8 245.8,353.7 259.2,351.0" fill="none" stroke="#000" stroke-width="2.1" stroke-linejoin="round" />
<circle cx="60.0" cy="486.3" r="3.35" fill="#000"/>
<circle cx="61.3" cy="475.8" r="3.35" fill="#000"/>
<circle cx="63.2" cy="460.0" r="3.35" fill="#000"/>
<circle cx="65.6" cy="448.0" r="3.35" fill="#000"/>
<circle cx="67.5" cy="436.0" r="3.35" fill="#000"/>
<circle cx="70.8" cy="429.2" r="3.35" fill="#000"/>
<circle cx="73.4" cy="421.5" r="3.35" fill="#000"/>
<circle cx="79.3" cy="407.1" r="3.35" fill="#000"/>
<circle cx="82.7" cy="401.8" r="3.35" fill="#000"/>
<circle cx="87.4" cy="393.2" r="3.35" fill="#000"/>
<circle cx="90.4" cy="390.0" r="3.35" fill="#000"/>
<circle cx="96.8" cy="382.1" r="3.35" fill="#000"/>
<circle cx="103.7" cy="375.0" r="3.35" fill="#000"/>
<circle cx="74.7" cy="469.2" r="3.6" fill="#fff" stroke="#000" stroke-width="1.1"/>
<circle cx="79.1" cy="453.2" r="3.6" fill="#fff" stroke="#000" stroke-width="1.1"/>
<circle cx="80.0" cy="448.0" r="3.6" fill="#fff" stroke="#000" stroke-width="1.1"/>
<circle cx="90.0" cy="432.5" r="3.6" fill="#fff" stroke="#000" stroke-width="1.1"/>
<circle cx="95.7" cy="427.0" r="3.6" fill="#fff" stroke="#000" stroke-width="1.1"/>
<circle cx="104.8" cy="417.7" r="3.6" fill="#fff" stroke="#000" stroke-width="1.1"/>
<circle cx="113.8" cy="408.3" r="3.6" fill="#fff" stroke="#000" stroke-width="1.1"/>
<circle cx="129.2" cy="397.5" r="3.6" fill="#fff" stroke="#000" stroke-width="1.1"/>
<circle cx="158.0" cy="383.7" r="3.6" fill="#fff" stroke="#000" stroke-width="1.1"/>
<circle cx="188.0" cy="371.3" r="3.6" fill="#fff" stroke="#000" stroke-width="1.1"/>
<circle cx="217.0" cy="360.8" r="3.6" fill="#fff" stroke="#000" stroke-width="1.1"/>
<circle cx="245.8" cy="353.7" r="3.6" fill="#fff" stroke="#000" stroke-width="1.1"/>
<text x="87.30" y="354.80" font-size="10.2" font-weight="bold" text-anchor="start" fill="#000" stroke="#000" stroke-width="0.25" >Pure Pd</text>
<text x="87.1" y="367.1" font-size="10.1">200 <tspan dx="1.5" font-weight="normal" font-family="'Liberation Sans', 'Noto Sans CJK JP', sans-serif" font-size="10" stroke="#000" stroke-width="0.3">℃</tspan></text>
<text x="201.20" y="340.50" font-size="10.1" font-weight="bold" text-anchor="start" fill="#000" stroke="#000" stroke-width="0.25" >Pd-23Ag</text>
<text x="201.2" y="352.2" font-size="10.1">300 <tspan font-weight="normal" font-family="'Liberation Sans', 'Noto Sans CJK JP', sans-serif" font-size="10" stroke="#000" stroke-width="0.3">℃</tspan></text>
<text x="239.80" y="505.10" font-size="11.4" font-weight="bold" text-anchor="start" fill="#000" stroke="#000" stroke-width="0.25" >(b)</text>
<polyline points="264.0,458.0 266.8,458.0 267.3,444.0 268.0,432.5 270.0,413.7 273.7,403.0 280.8,395.8 286.0,394.2 303.0,393.7 410.0,393.7 425.8,386.0 436.3,379.7 440.0,373.3 441.4,370.2 444.2,365.8 445.8,361.3 447.5,353.5" fill="none" stroke="#000" stroke-width="1.4" stroke-linejoin="round" />
<polyline points="265.9,502.0 271.2,473.6 273.8,459.8 278.7,440.0 281.6,432.4 286.8,421.8 293.2,412.5 303.7,401.5 322.4,387.9 337.0,373.8 343.8,362.2 348.0,354.2 350.3,348.0 353.8,335.3 358.3,325.0 361.3,311.7 364.7,306.5" fill="none" stroke="#000" stroke-width="1.9" stroke-linejoin="round" />
<circle cx="268.0" cy="432.5" r="3.2" fill="#000"/>
<circle cx="270.0" cy="413.7" r="3.2" fill="#000"/>
<circle cx="273.7" cy="403.0" r="3.2" fill="#000"/>
<circle cx="280.8" cy="395.8" r="3.2" fill="#000"/>
<circle cx="303.0" cy="394.0" r="3.2" fill="#000"/>
<circle cx="329.8" cy="393.5" r="3.2" fill="#000"/>
<circle cx="357.0" cy="393.4" r="3.2" fill="#000"/>
<circle cx="383.0" cy="392.0" r="3.2" fill="#000"/>
<circle cx="407.0" cy="390.2" r="3.2" fill="#000"/>
<circle cx="425.8" cy="385.3" r="3.2" fill="#000"/>
<circle cx="436.3" cy="379.7" r="3.2" fill="#000"/>
<circle cx="440.0" cy="373.3" r="3.2" fill="#000"/>
<circle cx="441.4" cy="370.2" r="3.2" fill="#000"/>
<circle cx="444.2" cy="365.8" r="3.2" fill="#000"/>
<circle cx="445.8" cy="361.3" r="3.2" fill="#000"/>
<circle cx="447.5" cy="353.5" r="3.2" fill="#000"/>
<circle cx="265.9" cy="502.0" r="3.4" fill="#fff" stroke="#000" stroke-width="1.1"/>
<circle cx="271.2" cy="473.6" r="3.4" fill="#fff" stroke="#000" stroke-width="1.1"/>
<circle cx="273.8" cy="459.8" r="3.4" fill="#fff" stroke="#000" stroke-width="1.1"/>
<circle cx="278.7" cy="440.0" r="3.4" fill="#fff" stroke="#000" stroke-width="1.1"/>
<circle cx="281.6" cy="432.4" r="3.4" fill="#fff" stroke="#000" stroke-width="1.1"/>
<circle cx="286.8" cy="421.8" r="3.4" fill="#fff" stroke="#000" stroke-width="1.1"/>
<circle cx="293.2" cy="412.5" r="3.4" fill="#fff" stroke="#000" stroke-width="1.1"/>
<circle cx="303.7" cy="401.5" r="3.4" fill="#fff" stroke="#000" stroke-width="1.1"/>
<circle cx="322.4" cy="387.9" r="3.4" fill="#fff" stroke="#000" stroke-width="1.1"/>
<circle cx="337.0" cy="373.8" r="3.4" fill="#fff" stroke="#000" stroke-width="1.1"/>
<circle cx="343.8" cy="362.2" r="3.4" fill="#fff" stroke="#000" stroke-width="1.1"/>
<circle cx="348.0" cy="354.2" r="3.4" fill="#fff" stroke="#000" stroke-width="1.1"/>
<circle cx="350.3" cy="348.0" r="3.4" fill="#fff" stroke="#000" stroke-width="1.1"/>
<circle cx="353.8" cy="335.3" r="3.4" fill="#fff" stroke="#000" stroke-width="1.1"/>
<circle cx="358.3" cy="325.0" r="3.4" fill="#fff" stroke="#000" stroke-width="1.1"/>
<circle cx="361.3" cy="311.7" r="3.4" fill="#fff" stroke="#000" stroke-width="1.1"/>
<polygon points="312.5,384.6 314.4,391.5 320.3,391.5 315.5,395.8 317.3,402.7 312.5,398.5 307.7,402.7 309.5,395.8 304.7,391.5 310.6,391.5" fill="#fff" stroke="#000" stroke-width="1.1"/>
<line x1="324.00" y1="421.50" x2="317.20" y2="406.80" stroke="#000" stroke-width="1.3" />
<polygon points="315.5,403.3 320.6,407.4 315.6,409.6" fill="#000"/>
<text x="311" y="430.2" font-size="11.3" textLength="82" lengthAdjust="spacingAndGlyphs">Inflection point</text>
<text x="304.00" y="329.60" font-size="11.3" font-weight="bold" text-anchor="start" fill="#000" stroke="#000" stroke-width="0.25" >Pd-23Ag</text>
<text x="304.2" y="344.2" font-size="11">180 <tspan font-size="8" dy="-6.6" dx="0.3">o</tspan><tspan dy="6.6" dx="-1.4" font-size="12.5">C</tspan></text>
<text x="413.30" y="334.20" font-size="11" font-weight="bold" text-anchor="start" fill="#000" stroke="#000" stroke-width="0.25" >Pure Pd</text>
<text x="413.3" y="348.7" font-size="11">110 <tspan font-size="8" dy="-6.6" dx="0.3">o</tspan><tspan dy="6.6" dx="-1.4" font-size="12.5">C</tspan></text>
<text x="448.50" y="505.30" font-size="11.4" font-weight="bold" text-anchor="start" fill="#000" stroke="#000" stroke-width="0.25" >(c)</text>
</svg>
</body></html>
